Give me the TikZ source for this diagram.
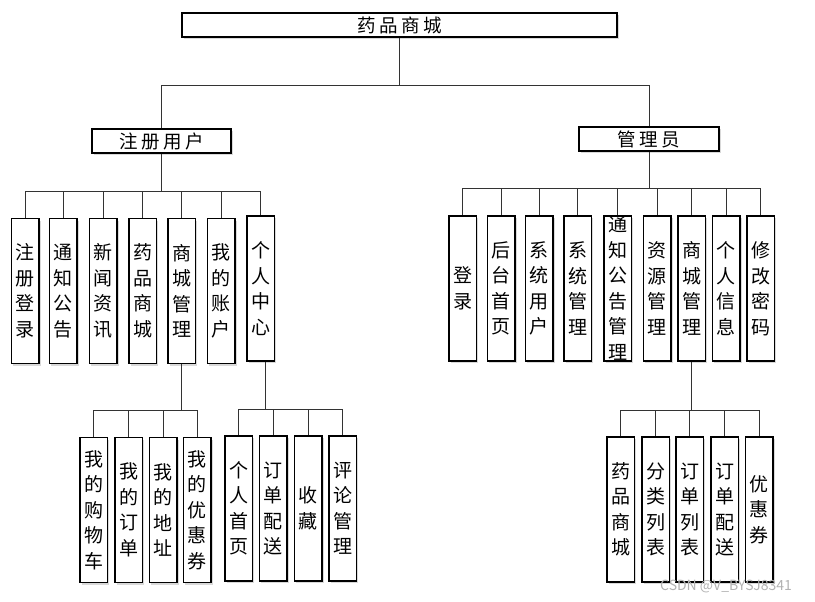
\documentclass[tikz,border=0pt]{standalone}
\usepackage{fontspec}
\newfontfamily\cjk{Noto Sans CJK SC}
\usetikzlibrary{shadows}
\newcommand{\gsp}{\hspace{3.5pt}}
\tikzset{
 boxbase/.style={draw=black, line width=1.5pt, fill=white, inner sep=0pt,
   general shadow={fill=black!15, shadow xshift=2pt, shadow yshift=-2pt}},
 hbox/.style={boxbase, minimum height=24pt, font=\cjk\fontsize{18.5}{20}\selectfont},
 vbox/.style={boxbase, minimum width=27.5pt, minimum height=145pt},
 vtext/.style={font=\cjk\fontsize{19}{25.5}\selectfont, align=center, inner sep=0pt},
 link/.style={draw=black!80, line width=1pt},
}
\begin{document}
\begin{tikzpicture}[x=1pt,y=-1pt]
\useasboundingbox (0,0) rectangle (815,602);
% top level
\node[hbox, minimum width=435pt] (root) at (399.5,25) {药\gsp 品\gsp 商\gsp 城};
\node[hbox, minimum width=139pt] (u) at (161.5,141) {注\gsp 册\gsp 用\gsp 户};
\node[hbox, minimum width=140pt] (adm) at (649,139) {管\gsp 理\gsp 员};
% user children
\node[vbox] (r1) at (25,291) {};
\node[vbox] (r2) at (63,291) {};
\node[vbox] (r3) at (103,291) {};
\node[vbox] (r4) at (142.5,291) {};
\node[vbox] (r5) at (181.5,291) {};
\node[vbox] (r6) at (221,291) {};
\node[vbox] (r7) at (260.5,288.5) {};
\node[vtext] (r1t) at (r1) {注\\册\\登\\录};
\node[vtext] (r2t) at (r2) {通\\知\\公\\告};
\node[vtext] (r3t) at (r3) {新\\闻\\资\\讯};
\node[vtext] (r4t) at (r4) {药\\品\\商\\城};
\node[vtext] (r5t) at (r5) {商\\城\\管\\理};
\node[vtext] (r6t) at (r6) {我\\的\\账\\户};
\node[vtext] (r7t) at (r7) {个\\人\\中\\心};
% admin children
\node[vbox] (a1) at (462.5,288.5) {};
\node[vbox] (a2) at (501,288.5) {};
\node[vbox] (a3) at (539,288.5) {};
\node[vbox] (a4) at (577.5,288.5) {};
\node[vbox] (a5) at (617.5,288.5) {};
\node[vbox] (a6) at (657,288.5) {};
\node[vbox] (a7) at (691.5,288.5) {};
\node[vbox] (a8) at (726,288.5) {};
\node[vbox] (a9) at (760.5,288.5) {};
\node[vtext] (a1t) at (a1) {登\\录};
\node[vtext] (a2t) at (a2) {后\\台\\首\\页};
\node[vtext] (a3t) at (a3) {系\\统\\用\\户};
\node[vtext] (a4t) at (a4) {系\\统\\管\\理};
\node[vtext] (a5t) at (a5) {通\\知\\公\\告\\管\\理};
\node[vtext] (a6t) at (a6) {资\\源\\管\\理};
\node[vtext] (a7t) at (a7) {商\\城\\管\\理};
\node[vtext] (a8t) at (a8) {个\\人\\信\\息};
\node[vtext] (a9t) at (a9) {修\\改\\密\\码};
% level 2 under 商城管理 (user)
\node[vbox] (s1) at (93.5,510) {};
\node[vbox] (s2) at (128.5,510) {};
\node[vbox] (s3) at (163,510) {};
\node[vbox] (s4) at (197,510) {};
\node[vtext] (s1t) at (s1) {我\\的\\购\\物\\车};
\node[vtext] (s2t) at (s2) {我\\的\\订\\单};
\node[vtext] (s3t) at (s3) {我\\的\\地\\址};
\node[vtext] (s4t) at (s4) {我\\的\\优\\惠\\券};
% level 2 under 个人中心
\node[vbox] (p1) at (238.5,508.5) {};
\node[vbox] (p2) at (273,508.5) {};
\node[vbox] (p3) at (308,508.5) {};
\node[vbox] (p4) at (342.5,508.5) {};
\node[vtext] (p1t) at (p1) {个\\人\\首\\页};
\node[vtext] (p2t) at (p2) {订\\单\\配\\送};
\node[vtext] (p3t) at (p3) {收\\藏};
\node[vtext] (p4t) at (p4) {评\\论\\管\\理};
% level 2 under 商城管理 (admin)
\node[vbox] (m1) at (620.5,509.5) {};
\node[vbox] (m2) at (655.5,509.5) {};
\node[vbox] (m3) at (689.5,509.5) {};
\node[vbox] (m4) at (724.5,509.5) {};
\node[vbox] (m5) at (759,509.5) {};
\node[vtext] (m1t) at (m1) {药\\品\\商\\城};
\node[vtext] (m2t) at (m2) {分\\类\\列\\表};
\node[vtext] (m3t) at (m3) {订\\单\\列\\表};
\node[vtext] (m4t) at (m4) {订\\单\\配\\送};
\node[vtext] (m5t) at (m5) {优\\惠\\券};
% connectors
\coordinate (b0) at (399.5,86);
\draw[link] (root.south) -- (b0);
\draw[link] (b0) -| (u.north);
\draw[link] (b0) -| (adm.north);
\coordinate (bu) at (161.5,191);
\draw[link] (u.south) -- (bu);
\foreach \n in {r1,r2,r3,r4,r5,r6,r7} \draw[link] (bu) -| (\n.north);
\coordinate (ba) at (649,188);
\draw[link] (adm.south) -- (ba);
\foreach \n in {a1,a2,a3,a4,a5,a6,a7,a8,a9} \draw[link] (ba) -| (\n.north);
\coordinate (bs) at (181.5,410);
\draw[link] (r5.south) -- (bs);
\foreach \n in {s1,s2,s3,s4} \draw[link] (bs) -| (\n.north);
\coordinate (bp) at (265,409);
\draw[link] ([xshift=4.5pt]r7.south) -- (bp);
\foreach \n in {p1,p2,p3,p4} \draw[link] (bp) -| (\n.north);
\coordinate (bm) at (691.5,410);
\draw[link] (a7.south) -- (bm);
\foreach \n in {m1,m2,m3,m4,m5} \draw[link] (bm) -| (\n.north);
% watermark
\node[font=\cjk\fontsize{14}{14}\selectfont, text=black!30, anchor=west, inner sep=0pt] (wm) at (660,586) {CSDN @V\_BYSJ8341};
\end{tikzpicture}
\end{document}
